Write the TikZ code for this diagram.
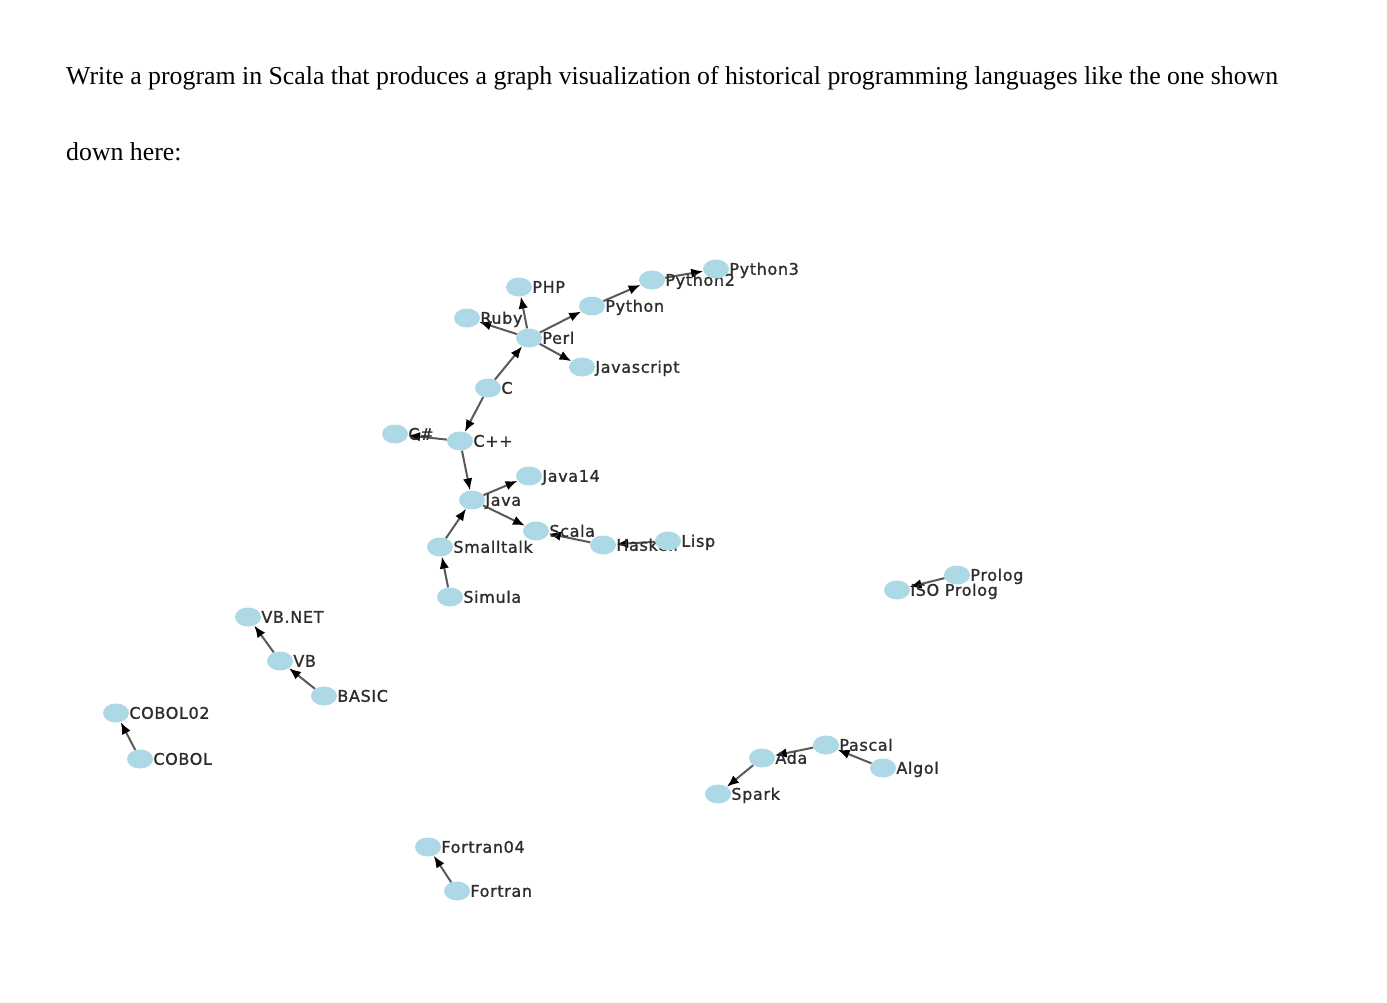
\documentclass[tikz,border=0pt]{standalone}
\usepackage{fontspec}
\setmainfont{Liberation Serif}
\newfontfamily\lblfont[LetterSpace=4,FakeBold=1.2]{DejaVu Sans}
\usetikzlibrary{arrows.meta,shapes.geometric}
\pgfdeclarelayer{bg}
\pgfsetlayers{bg,main}
\definecolor{nodeblue}{RGB}{173,216,230}
\definecolor{edgegray}{RGB}{90,90,90}
\definecolor{lbltext}{RGB}{45,45,45}
\tikzset{
  langnode/.style={ellipse, fill=nodeblue, minimum width=26pt, minimum height=19pt, inner sep=0pt},
  lbl/.style={font=\lblfont\fontsize{16}{18}\selectfont, text=lbltext, inner sep=0pt, text height=11.5pt, text depth=0pt},
  edgeline/.style={draw=edgegray, line width=2pt, -{Latex[length=12pt,width=9.5pt,color=black]}},
  header/.style={font=\fontsize{25.8}{30}\selectfont, anchor=base west, inner sep=0pt}
}
\newcommand\langat[3]{\node[langnode, label={[lbl]east:#3}] (#1) at (#2) {};}
\begin{document}
\begin{tikzpicture}[x=1pt,y=-1pt]
\useasboundingbox (0,0) rectangle (1387,1002);
\node[header] (h1) at (66,84) {Write a program in Scala that produces a graph visualization of historical programming languages like the one shown};
\node[header] (h2) at (66,160) {down here:};
% nodes
\langat{php}{519,287}{PHP}
\langat{ruby}{467,318}{Ruby}
\langat{perl}{529,338}{Perl}
\langat{python}{592,306}{Python}
\langat{python2}{652,280}{Python2}
\langat{python3}{716,269}{Python3}
\langat{js}{582,367}{Javascript}
\langat{c}{488,388}{C}
\langat{csharp}{395,434}{C\#}
\langat{cpp}{460,441}{C++}
\langat{javaf}{529,476}{Java14}
\langat{java}{472,500}{Java}
\langat{scala}{536,531}{Scala}
\langat{smalltalk}{440,547}{Smalltalk}
\langat{haskell}{603,545}{Haskell}
\langat{lisp}{668,541}{Lisp}
\langat{simula}{450,597}{Simula}
\langat{isoprolog}{897,590}{ISO Prolog}
\langat{prolog}{957,575}{Prolog}
\langat{vbnet}{248,617}{VB.NET}
\langat{vb}{280,661}{VB}
\langat{basic}{324,696}{BASIC}
\langat{cobolz}{116,713}{COBOL02}
\langat{cobol}{140,759}{COBOL}
\langat{ada}{762,758}{Ada}
\langat{pascal}{826,745}{Pascal}
\langat{algol}{883,768}{Algol}
\langat{spark}{718,794}{Spark}
\langat{fortranz}{428,847}{Fortran04}
\langat{fortran}{457,891}{Fortran}
% edges
\begin{pgfonlayer}{bg}
\fill[white] (0,0) rectangle (1387,1002);
\draw[edgeline] (c) -- (perl);
\draw[edgeline] (c) -- (cpp);
\draw[edgeline] (perl) -- (php);
\draw[edgeline] (perl) -- (ruby);
\draw[edgeline] (perl) -- (python);
\draw[edgeline] (perl) -- (js);
\draw[edgeline] (python) -- (python2);
\draw[edgeline] (python2) -- (python3);
\draw[edgeline] (cpp) -- (csharp);
\draw[edgeline] (cpp) -- (java);
\draw[edgeline] (java) -- (javaf);
\draw[edgeline] (java) -- (scala);
\draw[edgeline] (smalltalk) -- (java);
\draw[edgeline] (simula) -- (smalltalk);
\draw[edgeline] (haskell) -- (scala);
\draw[edgeline] (lisp) -- (haskell);
\draw[edgeline] (prolog) -- (isoprolog);
\draw[edgeline] (vb) -- (vbnet);
\draw[edgeline] (basic) -- (vb);
\draw[edgeline] (cobol) -- (cobolz);
\draw[edgeline] (pascal) -- (ada);
\draw[edgeline] (algol) -- (pascal);
\draw[edgeline] (ada) -- (spark);
\draw[edgeline] (fortran) -- (fortranz);
\end{pgfonlayer}
\end{tikzpicture}
\end{document}
